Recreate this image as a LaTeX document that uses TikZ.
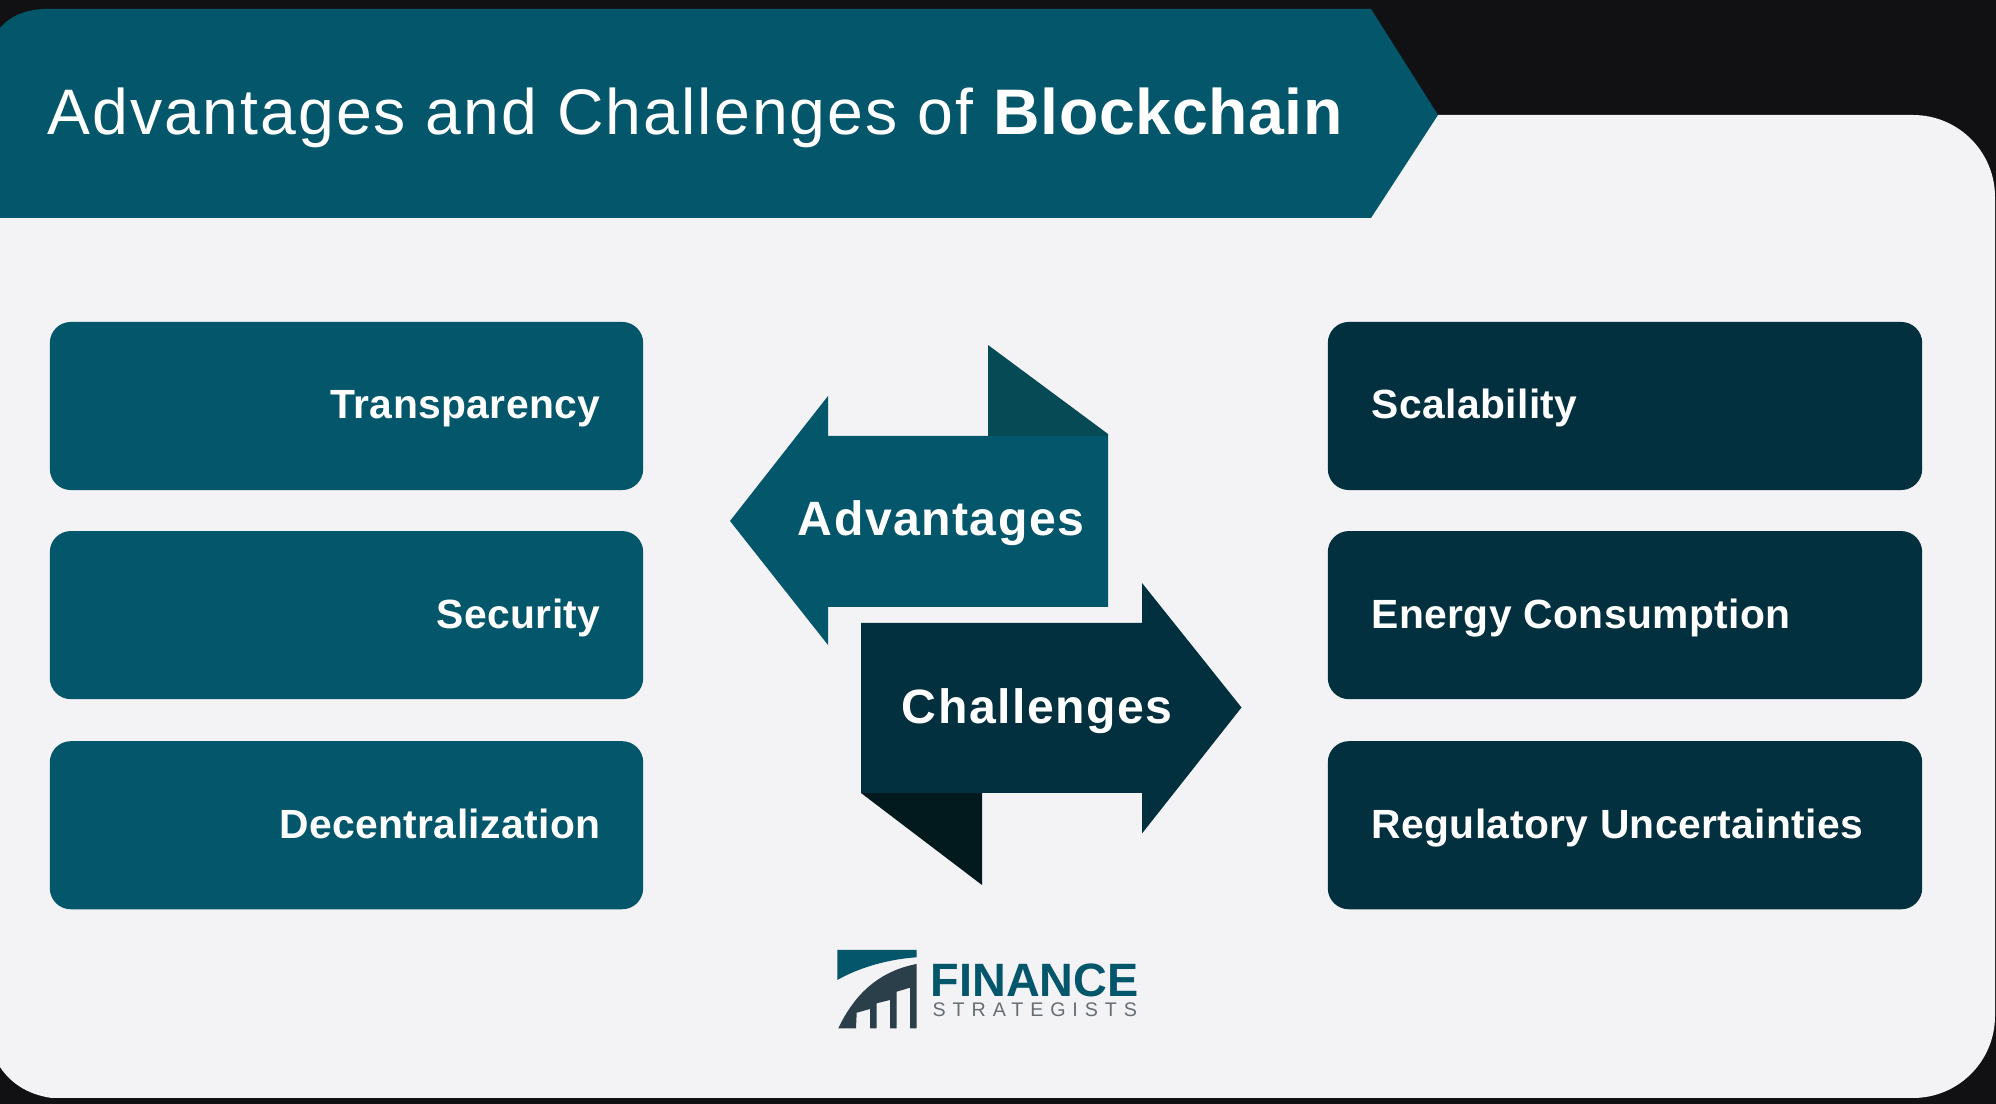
\documentclass[tikz,border=0pt]{standalone}
\usepackage{fontspec}
\setmainfont{Liberation Sans}
\newfontfamily\titlefont[LetterSpace=3.2]{Liberation Sans}
\newfontfamily\boxfont[LetterSpace=1]{Liberation Sans Bold}
\newfontfamily\arrowfont[LetterSpace=3]{Liberation Sans Bold}
\newfontfamily\strategistsfont[LetterSpace=35]{Liberation Sans}
\usepackage{tikz}
\usetikzlibrary{positioning}

\definecolor{frameblack}{HTML}{111113}
\definecolor{panelgray}{HTML}{F3F2F4}
\definecolor{tealmain}{HTML}{04566B}
\definecolor{tealfold}{HTML}{064A55}
\definecolor{navymain}{HTML}{03303E}
\definecolor{navyfold}{HTML}{02191E}
\definecolor{logogray}{HTML}{2B3F4A}
\definecolor{logotext}{HTML}{666E74}

\tikzset{
  advbox/.style={fill=tealmain,rounded corners=0.21cm,minimum width=5.93cm,minimum height=1.68cm,inner sep=0pt,outer sep=0pt},
  chalbox/.style={fill=navymain,rounded corners=0.21cm,minimum width=5.94cm,minimum height=1.68cm,inner sep=0pt,outer sep=0pt},
  boxlabel/.style={text=white,font=\boxfont\fontsize{11.6}{14}\selectfont,inner sep=0pt},
  arrowlabel/.style={text=white,font=\arrowfont\fontsize{13.7}{16}\selectfont,inner sep=0pt,anchor=base},
}

\begin{document}
\begin{tikzpicture}[x=0.01cm,y=-0.01cm]

\def\labelgap{0.43cm}
\def\labeldrop{-0.13cm}

\useasboundingbox (0,0) rectangle (1996,1104);
\fill[frameblack] (0,0) rectangle (1996,1104);

% panel
\fill[panelgray,rounded corners=0.82cm] (600,115) -- (1995,115) -- (1995,1098) -- (1000,1098);
\fill[panelgray] (0,115) -- (1000,115) -- (1000,1098) -- (52,1098) .. controls (30,1095) and (12,1085) .. (0,1067) -- cycle;

% title band
\fill[tealmain] (0,28) .. controls (10,16) and (25,10) .. (43,9) -- (1371,9) -- (1438,115) -- (1371,218) -- (0,218) -- cycle;
\node[anchor=base west,text=white,inner sep=0pt,font=\titlefont\fontsize{18.3}{20}\selectfont] (title) at (47,135) {Advantages and Challenges of {\boxfont\fontsize{18.3}{20}\selectfont Blockchain}};

% left column
\node[advbox] (transparency) at (346.5,406) {};
\node[advbox,below=0.41cm of transparency] (security) {};
\node[advbox,below=0.42cm of security] (decentral) {};
\node[boxlabel,anchor=base east] (transparencylabel) at ([xshift=-0.42cm,yshift=\labeldrop]transparency.east) {Transparency};
\node[boxlabel,anchor=base east] (securitylabel) at ([xshift=-0.42cm,yshift=\labeldrop]security.east) {Security};
\node[boxlabel,anchor=base east] (decentrallabel) at ([xshift=-0.42cm,yshift=\labeldrop]decentral.east) {Decentralization};

% right column
\node[chalbox] (scalability) at (1625,406) {};
\node[chalbox,below=0.41cm of scalability] (energy) {};
\node[chalbox,below=0.42cm of energy] (regulatory) {};
\node[boxlabel,anchor=base west] (scalabilitylabel) at ([xshift=\labelgap,yshift=\labeldrop]scalability.west) {Scalability};
\node[boxlabel,anchor=base west] (energylabel) at ([xshift=\labelgap,yshift=\labeldrop]energy.west) {Energy Consumption};
\node[boxlabel,anchor=base west] (regulatorylabel) at ([xshift=\labelgap,yshift=\labeldrop]regulatory.west) {Regulatory Uncertainties};

% middle arrows
\fill[tealfold] (988,345) -- (1108,434) -- (1108,436) -- (988,436) -- cycle;
\fill[tealmain] (730,521) -- (828,396) -- (828,436) -- (1108,436) -- (1108,607) -- (828,607) -- (828,645) -- cycle;
\node[arrowlabel] (advlabel) at (941,536) {Advantages};

\fill[navyfold] (861,793) -- (982,793) -- (982,885) -- cycle;
\fill[navymain] (861,623) -- (1142,623) -- (1142,583) -- (1241.5,707.5) -- (1142,833.5) -- (1142,793) -- (861,793) -- cycle;
\node[arrowlabel] (challabel) at (1037,724) {Challenges};

% logo
\fill[tealmain] (837.3,950) -- (916.7,950) -- (916.7,957.3) .. controls (890,959) and (860,967) .. (837.3,980) -- cycle;
\fill[logogray] (916.7,964) .. controls (880,971) and (855,993) .. (838.3,1028.3) -- (856,1028.3) -- (856.7,1012.7) -- (870,1009) -- (870,1028.3) -- (876.7,1028.3) -- (876.7,1003.3) -- (890,1000) -- (890,1028.3) -- (896.7,1028.3) -- (896.7,991.7) -- (910,987.7) -- (910,1028.3) -- (916.7,1028.3) -- cycle;
\node[anchor=base west,text=tealmain,inner sep=0pt,font=\bfseries\fontsize{13.3}{14}\selectfont] (finance) at (930,997) {FINANCE};
\node[anchor=base west,text=logotext,inner sep=0pt,font=\strategistsfont\fontsize{5.6}{8}\selectfont] (strategists) at (932,1017) {STRATEGISTS};

\end{tikzpicture}
\end{document}
